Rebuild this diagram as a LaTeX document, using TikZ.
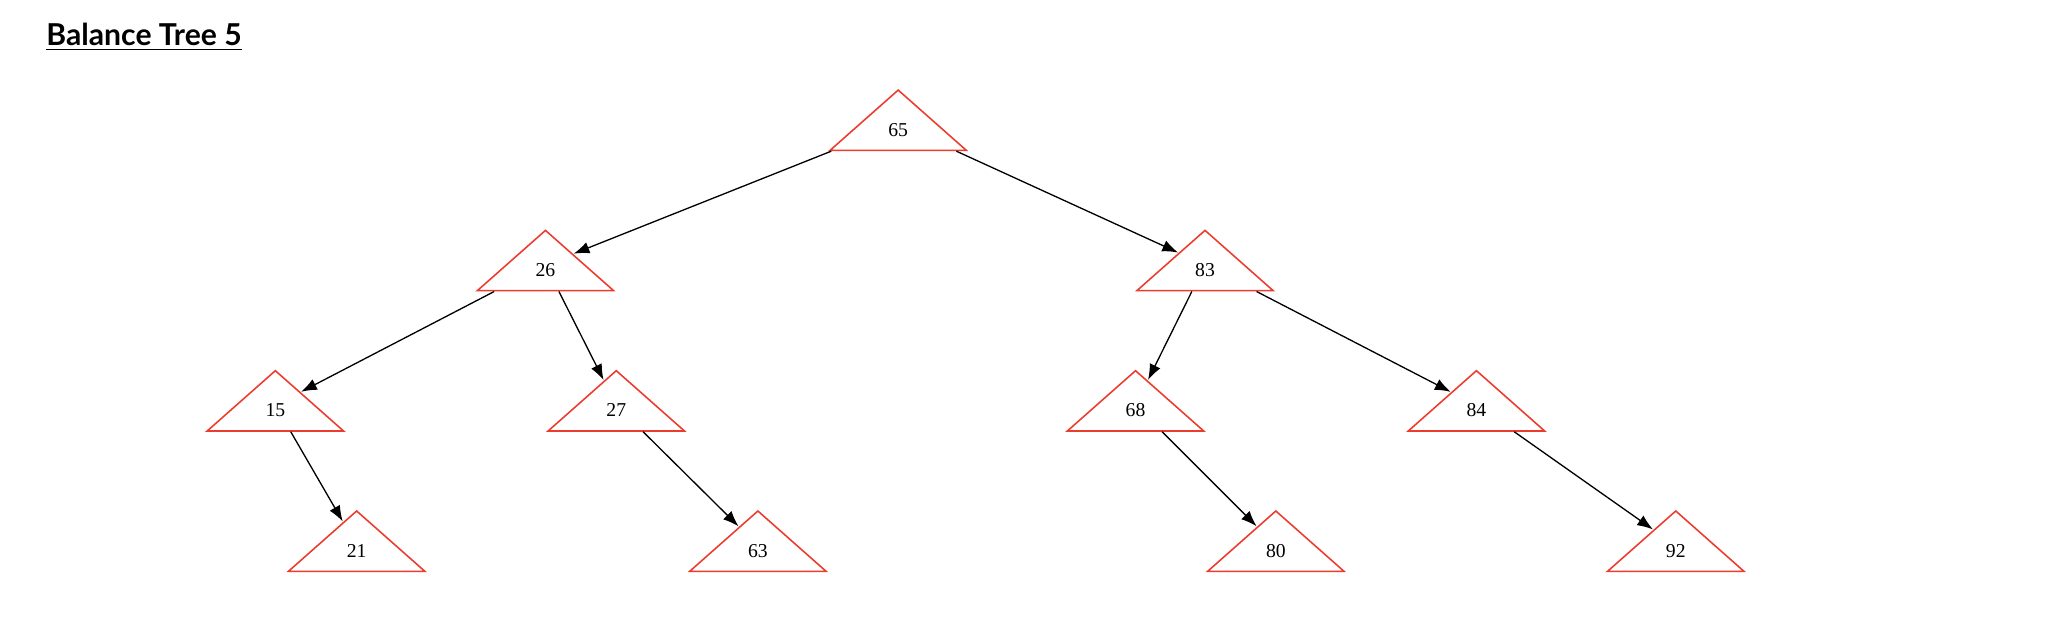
\documentclass[tikz,border=0pt]{standalone}
\usepackage{fontspec}
\setmainfont{Liberation Serif}
\newfontfamily\titlefont{Lato}
\usetikzlibrary{shapes.geometric,arrows.meta}
\definecolor{tred}{RGB}{235,60,45}
\tikzset{
  tri/.style={isosceles triangle, isosceles triangle stretches, shape border rotate=90,
    draw=tred, line width=0.6pt, minimum width=52pt, minimum height=23pt, inner sep=0pt},
  lbl/.style={font=\fontsize{7.5}{8}\selectfont, inner sep=0pt},
  edge/.style={-{Latex[length=6pt,width=4.5pt]}, line width=0.5pt}
}
\begin{document}
\begin{tikzpicture}[x=0.5pt,y=-0.5pt]
\useasboundingbox (0,0) rectangle (1568,477);
\node[anchor=base west, inner sep=0pt, font=\titlefont\bfseries\fontsize{11.5}{13}\selectfont] (title) at (35,35) {\underline{Balance Tree 5}};
\foreach \n/\x/\y in {65/685/95, 26/416/202, 83/919/202, 15/210/309, 27/470/309, 68/866/309, 84/1126/309, 21/272/416, 63/578/416, 80/973/416, 92/1278/416}
  \node[tri] (n\n) at (\x,\y) {};
\foreach \n/\x/\y in {65/685/99, 26/416/206, 83/919/206, 15/210/313, 27/470/313, 68/866/313, 84/1126/313, 21/272/420, 63/578/420, 80/973/420, 92/1278/420}
  \node[lbl] (l\n) at (\x,\y) {\n};
\foreach \a/\b in {65/26, 65/83, 26/15, 26/27, 83/68, 83/84, 15/21, 27/63, 68/80, 84/92}
  \draw[edge] (n\a) -- (n\b);
\end{tikzpicture}
\end{document}
